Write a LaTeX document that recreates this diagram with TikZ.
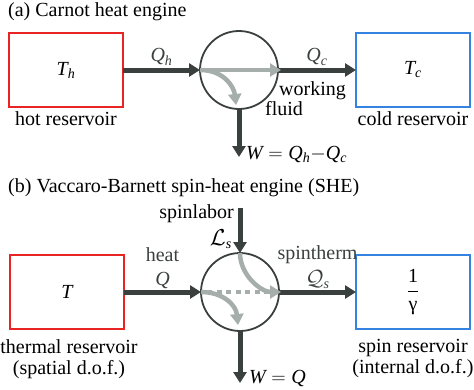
\RequirePackage{fix-cm}
\documentclass[tikz,border=0pt]{standalone}
\usepackage{amsmath}
\usepackage{fontspec}
\setmainfont{Liberation Serif}
\usetikzlibrary{arrows.meta,positioning}
\definecolor{HotRed}{RGB}{232,36,36}
\definecolor{ColdBlue}{RGB}{52,130,226}
\definecolor{FlowDark}{RGB}{58,64,62}
\definecolor{FlowGray}{RGB}{165,174,170}
\newcommand{\vi}[1]{\textit{#1}}

\begin{document}
\begin{tikzpicture}[
    x=1pt,y=-1pt,
    >={Triangle[length=11pt,width=13pt]},
    node distance=77pt,
    font=\fontsize{20}{22}\selectfont,
    box/.style={
      draw,line width=2.4pt,minimum width=114pt,
      minimum height=74pt,outer sep=0pt,inner sep=0pt
    },
    engine/.style={
      circle,draw=FlowDark,line width=1.8pt,minimum size=78pt,
      inner sep=0pt,outer sep=0pt
    },
    flow/.style={->,line width=5pt,FlowDark},
    pass/.style={->,line width=4.5pt,FlowGray},
    lbl/.style={inner sep=0pt,align=center}
  ]
  \useasboundingbox (0,0) rectangle (474,389);

  % (a) Carnot heat engine
  \node[lbl,anchor=base west] (titleA) at (8,16) {(a) Carnot heat engine};
  \node[engine] (engA) at (239,70) {};
  \node[box,draw=HotRed,left=77pt of engA] (hot) {$\vi{T}_{\vi{h}}$};
  \node[box,draw=ColdBlue,right=78pt of engA] (cold) {$\vi{T}_{\vi{c}}$};
  \node[lbl,below=4pt of hot] (hotTxt) {hot reservoir};
  \node[lbl,below=4pt of cold] (coldTxt) {cold reservoir};
  \coordinate (workA) at (239,157);
  \draw[flow] (hot) -- (engA)
    node[midway,above=2pt,lbl] {$\vi{Q}_{\vi{h}}$};
  \draw[flow] (engA) -- (cold)
    node[midway,above=2pt,lbl] {$\vi{Q}_{\vi{c}}$};
  \draw[flow] (engA) -- (workA);
  \node[lbl,anchor=base west] (wA) at (246,159)
    {$\vi{W} = \vi{Q}_{\vi{h}}{-}\vi{Q}_{\vi{c}}$};
  \node[lbl,anchor=base west,font=\fontsize{20}{15}\selectfont,align=left]
    (fluid) at (265,115) {\hspace*{14pt}working\\fluid};
  \draw[pass] (engA.west) -- ([xshift=3pt]engA.east);
  \draw[pass] (engA.west) .. controls +(24,0) and +(-2,-18) .. ([shift={(-3,-4)}]engA.south);

  % (b) Vaccaro-Barnett spin-heat engine
  \node[lbl,anchor=base west] (titleB) at (8,192)
    {(b) Vaccaro-Barnett spin-heat engine (SHE)};
  \node[engine] (engB) at (240,292) {};
  \node[box,draw=HotRed,left=77pt of engB] (therm) {$\vi{T}$};
  \node[box,draw=ColdBlue,right=77pt of engB] (spin)
    {$\displaystyle\frac{\mbox{1}}{\mbox{γ}}$};
  \node[lbl,below=10pt of therm,xshift=2pt,font=\fontsize{20}{21}\selectfont] (thermTxt)
    {thermal reservoir\\(spatial d.o.f.)};
  \node[lbl,below=10pt of spin,font=\fontsize{20}{21}\selectfont] (spinTxt)
    {spin reservoir\\(internal d.o.f.)};
  \coordinate (labIn) at (240,208);
  \coordinate (workB) at (240,383);
  \draw[flow] (labIn) -- (engB);
  \node[lbl,anchor=base east] (labTxt) at (234,218) {spinlabor};
  \node[lbl,anchor=base east] (labSym) at (232,245)
    {$\scalebox{1.15}{$\mathcal{L}$}_{\vi{s}}$};
  \draw[flow] (therm) -- (engB)
    node[midway,above=1pt,lbl,font=\fontsize{20}{24}\selectfont] {heat\\$\vi{Q}$};
  \draw[flow] (engB) -- (spin)
    node[midway,above=1pt,lbl,font=\fontsize{20}{26}\selectfont]
    {spintherm\\$\scalebox{1.1}{$\mathcal{Q}$}_{\vi{s}}$};
  \draw[flow] (engB) -- (workB);
  \node[lbl,anchor=base west] (wB) at (249,383) {$\vi{W} = \vi{Q}$};
  \draw[FlowGray,line width=4pt,dash pattern=on 5pt off 4.5pt]
    ([xshift=6pt]engB.west) -- ([xshift=-8pt]engB.east);
  \draw[pass] (engB.north) .. controls +(0,22) and +(-20,0) .. ([xshift=2pt]engB.east);
  \draw[pass] (engB.west) .. controls +(22,0) and +(-2,-20) .. ([shift={(-2,-6)}]engB.south);
\end{tikzpicture}
\end{document}
